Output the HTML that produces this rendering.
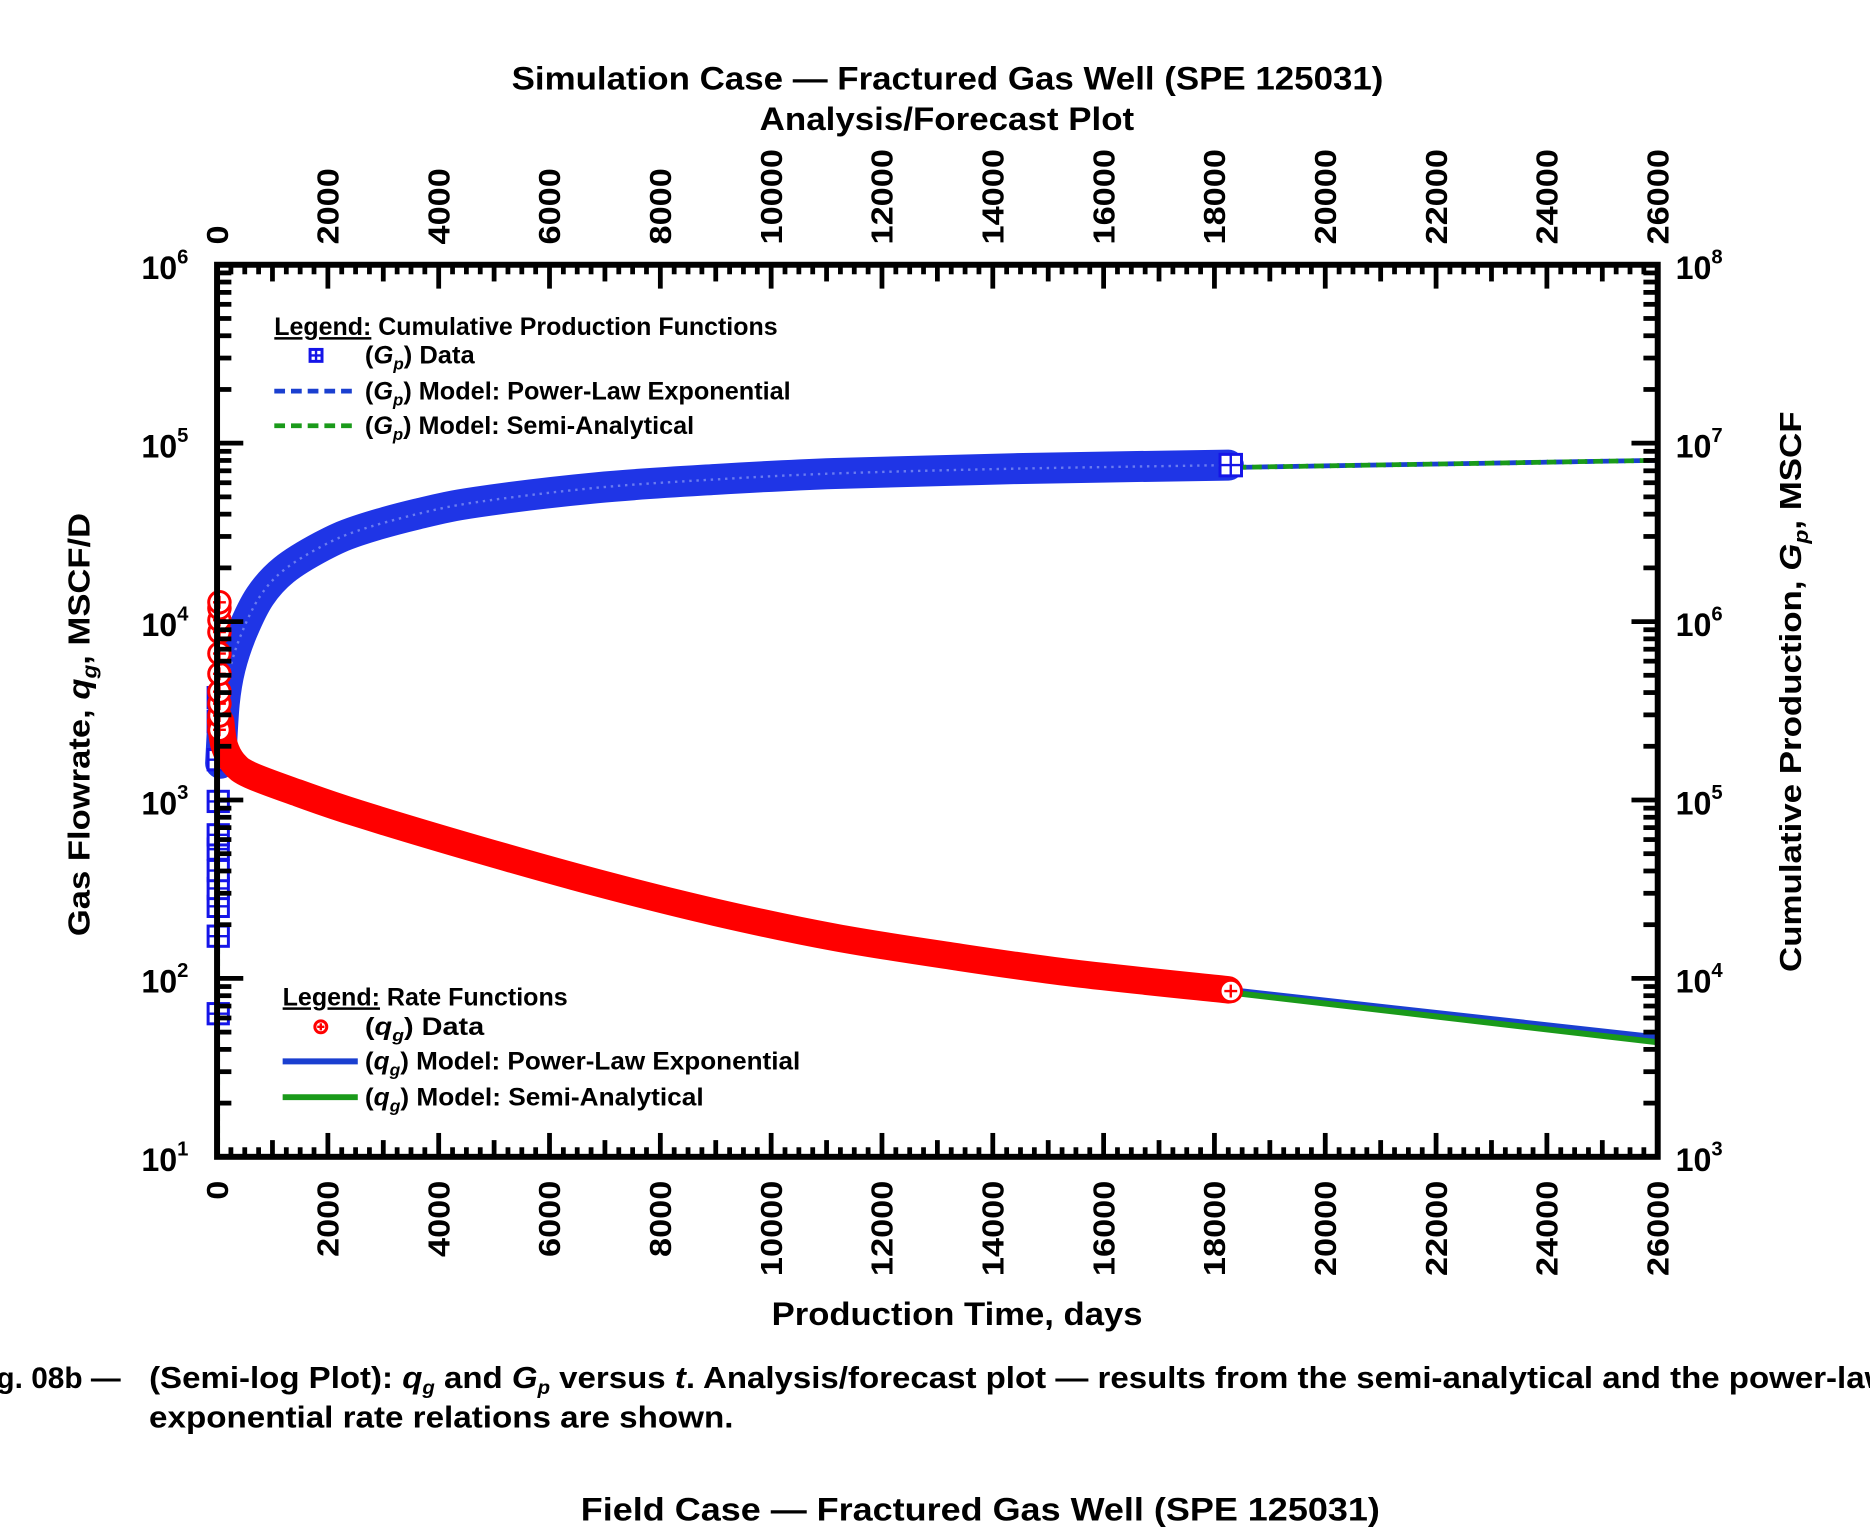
<!DOCTYPE html>
<html><head><meta charset="utf-8"><style>
html,body{margin:0;padding:0;background:#fff;}
svg{display:block;}
text{font-family:"Liberation Sans",Arial,sans-serif;font-weight:bold;fill:#000;}
</style></head><body>
<svg id="s" width="1870" height="1532" viewBox="0 0 1568 1284.6" preserveAspectRatio="none" xmlns="http://www.w3.org/2000/svg">
<rect width="1568" height="1285" fill="#fff"/>
<text x="429" y="75" font-size="27" textLength="731" lengthAdjust="spacingAndGlyphs">Simulation Case — Fractured Gas Well (SPE 125031)</text>
<text x="637" y="109" font-size="27" textLength="314" lengthAdjust="spacingAndGlyphs">Analysis/Forecast Plot</text>
<g id="g"></g>
<text x="647" y="1111" font-size="27" textLength="311" lengthAdjust="spacingAndGlyphs">Production Time, days</text>
<text transform="translate(75,785) rotate(-90)" font-size="26" textLength="355" lengthAdjust="spacingAndGlyphs">Gas Flowrate, <tspan font-style="italic">q</tspan><tspan font-style="italic" font-size="17" dy="6">g</tspan><tspan dy="-6">, MSCF/D</tspan></text>
<text transform="translate(1510,815) rotate(-90)" font-size="26" textLength="470" lengthAdjust="spacingAndGlyphs">Cumulative Production, <tspan font-style="italic">G</tspan><tspan font-style="italic" font-size="17" dy="6">p</tspan><tspan dy="-6">, MSCF</tspan></text>
<text x="-3" y="1164" font-size="25">g. 08b —</text>
<text x="125" y="1164" font-size="26" textLength="1460" lengthAdjust="spacingAndGlyphs">(Semi-log Plot): <tspan font-style="italic">q</tspan><tspan font-size="16" font-style="italic" dy="5">g</tspan><tspan dy="-5"> and </tspan><tspan font-style="italic">G</tspan><tspan font-size="16" font-style="italic" dy="5">p</tspan><tspan dy="-5"> versus </tspan><tspan font-style="italic">t</tspan>.  Analysis/forecast plot — results from the semi-analytical and the power-law</text>
<text x="125" y="1197" font-size="26" textLength="490" lengthAdjust="spacingAndGlyphs">exponential rate relations are shown.</text>
<text x="487" y="1275" font-size="27" textLength="670" lengthAdjust="spacingAndGlyphs">Field Case — Fractured Gas Well (SPE 125031)</text>
</svg>
<script>
const NS="http://www.w3.org/2000/svg",g=document.getElementById('g');
function el(t,a,p){const e=document.createElementNS(NS,t);for(const k in a)e.setAttribute(k,a[k]);(p||g).appendChild(e);return e;}
const L=182,R=1390,T=222,B=970,D=149.6;
const X=t=>L+t*(R-L)/26000;
function path(pts){let d=`M${pts[0][0]},${pts[0][1]}`;for(let i=0;i<pts.length-1;i++){const p0=pts[Math.max(0,i-1)],p1=pts[i],p2=pts[i+1],p3=pts[Math.min(pts.length-1,i+2)];
d+=` C${p1[0]+(p2[0]-p0[0])/6},${p1[1]+(p2[1]-p0[1])/6} ${p2[0]-(p3[0]-p1[0])/6},${p2[1]-(p3[1]-p1[1])/6} ${p2[0]},${p2[1]}`;}return d;}
el('line',{x1:183,y1:970,x2:183,y2:790,stroke:'#1a9a1a','stroke-width':3,'stroke-dasharray':'6,4'});
el('line',{x1:182,y1:480,x2:182,y2:450,stroke:'#1a3fd0','stroke-width':3});
const gp=[[185,640],[188,590],[193,560],[203,530],[218,500],[238,478],[270,458],[300,445],[350,431],[400,421],[500,409],[600,402],[700,397],[850,393],[1030,390]];
el('path',{d:path(gp),fill:'none',stroke:'#1f35e6','stroke-width':26,'stroke-linecap':'round'});
el('path',{d:path(gp),fill:'none',stroke:'#6a7cf0','stroke-width':2,'stroke-dasharray':'2,4'});
el('line',{x1:1030,y1:392,x2:1390,y2:386,stroke:'#1a3fd0','stroke-width':4,'stroke-dasharray':'8,5'});
el('line',{x1:1030,y1:392,x2:1390,y2:386,stroke:'#1a9a1a','stroke-width':4,'stroke-dasharray':'8,5','stroke-dashoffset':6});
function sq(x,y,s){el('rect',{x:x-s/2,y:y-s/2,width:s,height:s,fill:'#fff',stroke:'#1515e8','stroke-width':2.5});el('path',{d:`M${x-s/2},${y}H${x+s/2}M${x},${y-s/2}V${y+s/2}`,stroke:'#1515e8','stroke-width':2});}
[850,785,760,745,730,712,700,672,637,605,585].forEach(y=>sq(183,y,17));
sq(1032,390,18);
el('path',{d:'M1030,830 L1390,870',stroke:'#1a3fd0','stroke-width':5,fill:'none'});
el('path',{d:'M1030,832 L1390,874',stroke:'#1a9a1a','stroke-width':5,fill:'none'});
const qp=[[185,605],[188,625],[196,640],[210,650],[250,665],[300,682],[400,712],[500,740],[600,765],[700,786],[800,802],[900,816],[1030,830]];
el('path',{d:path(qp),fill:'none',stroke:'#ff0000','stroke-width':23,'stroke-linecap':'round'});
function ci(x,y,r){el('circle',{cx:x,cy:y,r:r,fill:'#fff',stroke:'#ff0000','stroke-width':2.5});el('path',{d:`M${x-r*.6},${y}H${x+r*.6}M${x},${y-r*.6}V${y+r*.6}`,stroke:'#ff0000','stroke-width':2});}
[612,600,590,580,565,548,530,520,510,505].forEach(y=>ci(184,y,9));
ci(1032,831,9);
el('rect',{x:L,y:T,width:R-L,height:B-T,fill:'none',stroke:'#000','stroke-width':5});
for(let t=0;t<=26000;t+=250){const x=X(t);let l=t%2000==0?20:(t%1000==0?14:8);
el('line',{x1:x,y1:T,x2:x,y2:T+l,stroke:'#000','stroke-width':4});el('line',{x1:x,y1:B,x2:x,y2:B-l,stroke:'#000','stroke-width':4});
if(t%2000==0){const n=String(t).length*16;
el('text',{transform:`translate(${x+9},205) rotate(-90)`,'font-size':26,'text-anchor':'start',textLength:n,lengthAdjust:'spacingAndGlyphs'}).textContent=t;
el('text',{transform:`translate(${x+9},${990+n}) rotate(-90)`,'font-size':26,'text-anchor':'start',textLength:n,lengthAdjust:'spacingAndGlyphs'}).textContent=t;}}
for(let d=0;d<5;d++)for(let m=1;m<10;m++){const y=B-(d+Math.log10(m))*D;const l=m==1?22:12;
el('line',{x1:L,y1:y,x2:L+l,y2:y,stroke:'#000','stroke-width':4});el('line',{x1:R,y1:y,x2:R-l,y2:y,stroke:'#000','stroke-width':4});}
for(let d=0;d<=5;d++){const y=B-d*D;
let t=el('text',{x:158,y:y+12,'font-size':27,'text-anchor':'end'});t.innerHTML=`10<tspan font-size="17" dy="-13">${d+1}</tspan>`;
t=el('text',{x:1405,y:y+12,'font-size':27});t.innerHTML=`10<tspan font-size="17" dy="-13">${d+3}</tspan>`;}
function lg(x,y,html,w){const t=el('text',{x:x,y:y,'font-size':21,textLength:w,lengthAdjust:'spacingAndGlyphs'});t.innerHTML=html;}
lg(230,281,'<tspan text-decoration="underline">Legend:</tspan> Cumulative Production Functions',422);
sq(265,298,10);
lg(306,305,'(<tspan font-style="italic">G</tspan><tspan font-style="italic" font-size="14" dy="5">p</tspan><tspan dy="-5">) Data</tspan>',92);
lg(306,335,'(<tspan font-style="italic">G</tspan><tspan font-style="italic" font-size="14" dy="5">p</tspan><tspan dy="-5">) Model: Power-Law Exponential</tspan>',357);
lg(306,364,'(<tspan font-style="italic">G</tspan><tspan font-style="italic" font-size="14" dy="5">p</tspan><tspan dy="-5">) Model: Semi-Analytical</tspan>',276);
el('line',{x1:230,y1:328,x2:300,y2:328,stroke:'#1a3fd0','stroke-width':4,'stroke-dasharray':'9,5'});
el('line',{x1:230,y1:357,x2:300,y2:357,stroke:'#1a9a1a','stroke-width':4,'stroke-dasharray':'9,5'});
lg(237,843,'<tspan text-decoration="underline">Legend:</tspan> Rate Functions',239);
ci(269,861,5);
lg(306,868,'(<tspan font-style="italic">q</tspan><tspan font-style="italic" font-size="14" dy="5">g</tspan><tspan dy="-5">)  Data</tspan>',100);
lg(306,897,'(<tspan font-style="italic">q</tspan><tspan font-style="italic" font-size="14" dy="5">g</tspan><tspan dy="-5">)  Model: Power-Law Exponential</tspan>',365);
lg(306,927,'(<tspan font-style="italic">q</tspan><tspan font-style="italic" font-size="14" dy="5">g</tspan><tspan dy="-5">)  Model: Semi-Analytical</tspan>',284);
el('line',{x1:237,y1:890,x2:300,y2:890,stroke:'#1a3fd0','stroke-width':5});
el('line',{x1:237,y1:920,x2:300,y2:920,stroke:'#1a9a1a','stroke-width':5});
</script>
</body></html>
